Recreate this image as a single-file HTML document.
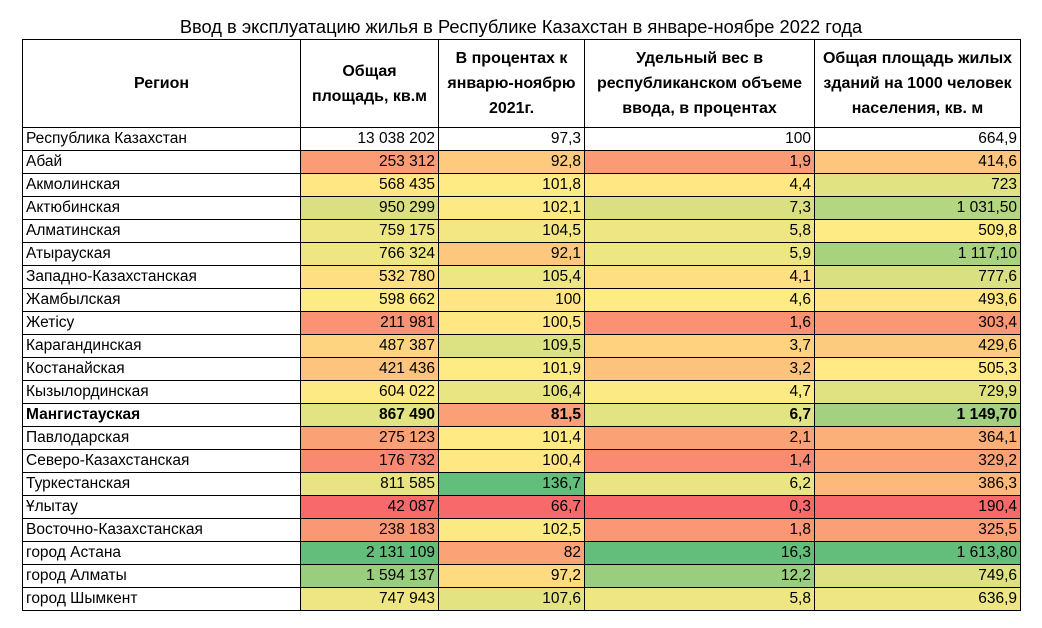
<!DOCTYPE html>
<html><head><meta charset="utf-8"><style>
body{margin:0;background:#fff;width:1042px;height:628px;overflow:hidden;font-family:"Liberation Sans",Arial,sans-serif;}
.title{position:absolute;top:16px;left:0;width:1042px;text-align:center;font-size:18.3px;color:#000;}
table{position:absolute;left:22px;top:39px;border-collapse:collapse;table-layout:fixed;font-size:15.5px;color:#000}
td,th{border:1px solid #000;padding:0 3px;height:22px;line-height:22px;white-space:nowrap;overflow:hidden}
th{height:87px;line-height:25px;font-weight:bold;text-align:center;white-space:normal;font-size:16px}
th.p{padding:0 9px}
td.n{text-align:right}
tr.b td{font-weight:bold}
</style></head><body>
<div class="title">Ввод в эксплуатацию жилья в Республике Казахстан в январе-ноябре 2022 года</div>
<table id="t">
<colgroup><col style="width:278px"><col style="width:138px"><col style="width:146px"><col style="width:230px"><col style="width:206px"></colgroup>
<tr><th>Регион</th><th class="p">Общая<br>площадь, кв.м</th><th>В процентах к январю-ноябрю 2021г.</th><th>Удельный вес в республиканском объеме ввода, в процентах</th><th>Общая площадь жилых зданий на 1000 человек населения, кв. м</th></tr>
</table>
<script>
var d=[
["Республика Казахстан","13 038 202","97,3","100","664,9"],
["Абай","253 312","92,8","1,9","414,6"],
["Акмолинская","568 435","101,8","4,4","723"],
["Актюбинская","950 299","102,1","7,3","1 031,50"],
["Алматинская","759 175","104,5","5,8","509,8"],
["Атырауская","766 324","92,1","5,9","1 117,10"],
["Западно-Казахстанская","532 780","105,4","4,1","777,6"],
["Жамбылская","598 662","100","4,6","493,6"],
["Жетісу","211 981","100,5","1,6","303,4"],
["Карагандинская","487 387","109,5","3,7","429,6"],
["Костанайская","421 436","101,9","3,2","505,3"],
["Кызылординская","604 022","106,4","4,7","729,9"],
["Мангистауская","867 490","81,5","6,7","1 149,70"],
["Павлодарская","275 123","101,4","2,1","364,1"],
["Северо-Казахстанская","176 732","100,4","1,4","329,2"],
["Туркестанская","811 585","136,7","6,2","386,3"],
["Ұлытау","42 087","66,7","0,3","190,4"],
["Восточно-Казахстанская","238 183","102,5","1,8","325,5"],
["город Астана","2 131 109","82","16,3","1 613,80"],
["город Алматы","1 594 137","97,2","12,2","749,6"],
["город Шымкент","747 943","107,6","5,8","636,9"]];
function num(s){return parseFloat(s.replace(/ /g,'').replace(',','.'));}
var R=[248,105,107],Y=[255,235,132],G=[99,190,123];
function mix(a,b,t){return 'rgb('+a.map((v,i)=>Math.round(v+(b[i]-v)*t)).join(',')+')';}
var cols=[];
for(var c=1;c<5;c++){var v=d.slice(1).map(r=>num(r[c])).sort((a,b)=>a-b);var n=v.length;var p=(n-1)*0.5;var med=v[Math.floor(p)]+(v[Math.ceil(p)]-v[Math.floor(p)])*(p-Math.floor(p));cols[c]={mn:v[0],mx:v[n-1],md:med};}
function col(c,x){var s=cols[c];if(x<=s.md)return mix(R,Y,(x-s.mn)/(s.md-s.mn));return mix(Y,G,(x-s.md)/(s.mx-s.md));}
var t=document.getElementById('t'),h='';
d.forEach(function(r,i){h+='<tr'+(r[0]=='Мангистауская'?' class="b"':'')+'><td>'+r[0]+'</td>';for(var c=1;c<5;c++){h+='<td class="n"'+(i?' style="background:'+col(c,num(r[c]))+'"':'')+'>'+r[c]+'</td>';}h+='</tr>';});
t.insertAdjacentHTML('beforeend',h);
</script>
</body></html>
